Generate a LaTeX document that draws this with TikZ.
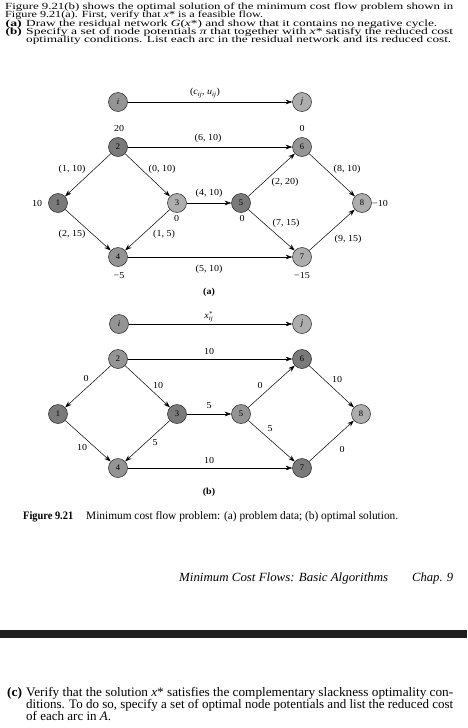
\documentclass[tikz,border=0pt]{standalone}
\usepackage{fontspec}
\setmainfont{Liberation Serif}
\usetikzlibrary{arrows.meta}
\newcommand\fitl[3]{\resizebox{#1}{#2\height}{#3}}
\newcommand\topf{\fontsize{12.2}{14}\selectfont}
\newcommand\capf{\fontsize{11.4}{13}\selectfont}
\newcommand\hdf{\fontsize{12.5}{14}\selectfont}
\newcommand\cf{\fontsize{13}{15}\selectfont}
\begin{document}
\begin{tikzpicture}[x=1pt,y=-1pt,
  vtx/.style={circle,draw=black!85,line width=0.5pt,minimum size=19pt,inner sep=0pt,font=\fontsize{8.5}{9}\selectfont},
  dk/.style={vtx,fill=black!52},
  md/.style={vtx,fill=black!42},
  lt/.style={vtx,fill=black!32},
  arc/.style={-{Stealth[length=6.5pt,width=4.6pt]},line width=0.5pt},
  lab/.style={inner sep=0pt,font=\fontsize{10}{12}\selectfont,yscale=0.92},
  txt/.style={anchor=base west,inner sep=0pt}]
\useasboundingbox (0,0) rectangle (467,728);
\fill[white] (0,0) rectangle (467,728);

% ---------- top text ----------
\node[txt] (t1) at (5,9.8) {\fitl{448pt}{0.77}{\topf Figure 9.21(b) shows the optimal solution of the minimum cost flow problem shown in}};
\node[txt] (t2) at (5,18) {\fitl{258pt}{0.77}{\topf Figure 9.21(a). First, verify that \textit{x}* is a feasible flow.}};
\node[txt] (t3a) at (5.5,26.2) {\fitl{16pt}{0.77}{\topf\bfseries (a)}};
\node[txt] (t3) at (26,26.2) {\fitl{411pt}{0.77}{\topf Draw the residual network \textit{G}(\textit{x}*) and show that it contains no negative cycle.}};
\node[txt] (t4a) at (5.5,34.4) {\fitl{16pt}{0.77}{\topf\bfseries (b)}};
\node[txt] (t4) at (26,34.4) {\fitl{427pt}{0.77}{\topf Specify a set of node potentials \textit{π} that together with \textit{x}* satisfy the reduced cost}};
\node[txt] (t5) at (26,42.8) {\fitl{425pt}{0.77}{\topf optimality conditions. List each arc in the residual network and its reduced cost.}};

% ---------- figure (a) ----------
\node[md] (ai) at (118,102) {\textit{i}};
\node[lt] (aj) at (302,102) {\textit{j}};
\node[dk] (a2) at (118,147) {2};
\node[md] (a6) at (302,147) {6};
\node[dk] (a1) at (58,203) {1};
\node[lt] (a3) at (177,203) {3};
\node[dk] (a5) at (241,203) {5};
\node[lt] (a8) at (362,203) {8};
\node[md] (a4) at (118,257) {4};
\node[lt] (a7) at (302,257) {7};

\draw[arc] (ai) -- (aj);
\draw[arc] (a2) -- (a6);
\draw[arc] (a2) -- (a1);
\draw[arc] (a2) -- (a3);
\draw[arc] (a1) -- (a4);
\draw[arc] (a3) -- (a4);
\draw[arc] (a3) -- (a5);
\draw[arc] (a5) -- (a6);
\draw[arc] (a5) -- (a7);
\draw[arc] (a4) -- (a7);
\draw[arc] (a6) -- (a8);
\draw[arc] (a7) -- (a8);

\node[lab] (lcu) at (205,93) {(\textit{c}\textsubscript{\textit{ij}}, \textit{u}\textsubscript{\textit{ij}})};
\node[lab] (b2) at (119,128) {20};
\node[lab] (b6) at (302,128) {0};
\node[lab] (l26) at (208,138) {(6, 10)};
\node[lab] (l21) at (72,169) {(1, 10)};
\node[lab] (l23) at (162,169) {(0, 10)};
\node[lab] (l56) at (285,182) {(2, 20)};
\node[lab] (l68) at (347,169) {(8, 10)};
\node[lab] (b1) at (37,203) {10};
\node[lab] (l35) at (209,193.5) {(4, 10)};
\node[lab] (b3) at (176.5,218) {0};
\node[lab] (b5) at (242,218) {0};
\node[lab] (b8) at (380,203) {−10};
\node[lab] (l14) at (72,234) {(2, 15)};
\node[lab] (l34) at (164,234) {(1, 5)};
\node[lab] (l57) at (286,223) {(7, 15)};
\node[lab] (l78) at (348,239) {(9, 15)};
\node[lab] (l47) at (209,269) {(5, 10)};
\node[lab] (b4) at (119,276) {−5};
\node[lab] (b7) at (302,276) {−15};
\node[lab] (capa) at (209,292) {\bfseries (a)};

% ---------- figure (b) ----------
\node[md] (bi) at (119,324) {\textit{i}};
\node[lt] (bj) at (302,324) {\textit{j}};
\node[md] (c2) at (118,359) {2};
\node[dk] (c6) at (302,359) {6};
\node[dk] (c1) at (58,414) {1};
\node[dk] (c3) at (177,414) {3};
\node[md] (c5) at (241,414) {5};
\node[lt] (c8) at (361,414) {8};
\node[md] (c4) at (118,468) {4};
\node[dk] (c7) at (302,468) {7};

\draw[arc] (bi) -- (bj);
\draw[arc] (c2) -- (c6);
\draw[arc] (c2) -- (c1);
\draw[arc] (c2) -- (c3);
\draw[arc] (c1) -- (c4);
\draw[arc] (c3) -- (c4);
\draw[arc] (c3) -- (c5);
\draw[arc] (c5) -- (c6);
\draw[arc] (c5) -- (c7);
\draw[arc] (c4) -- (c7);
\draw[arc] (c6) -- (c8);
\draw[arc] (c7) -- (c8);

\node[lab] (lx) at (209,317) {\textit{x}$^{*}_{\mathit{ij}}$};
\node[lab] (m26) at (209,351) {10};
\node[lab] (m21) at (86,378) {0};
\node[lab] (m23) at (158,385) {10};
\node[lab] (m56) at (260,385) {0};
\node[lab] (m68) at (337,379) {10};
\node[lab] (m35) at (209,406) {5};
\node[lab] (m14) at (82,447) {10};
\node[lab] (m34) at (155,443) {5};
\node[lab] (m57) at (270,429) {5};
\node[lab] (m78) at (342,449) {0};
\node[lab] (m47) at (209,460) {10};
\node[lab] (capb) at (209,492) {\bfseries (b)};

% ---------- caption & header ----------
\node[txt] (cap1) at (23,519.3) {\fitl{50pt}{1}{\capf\bfseries Figure 9.21}};
\node[txt] (cap2) at (86,519.3) {\fitl{312pt}{1}{\capf Minimum cost flow problem: (a) problem data; (b) optimal solution.}};
\node[txt] (hd1) at (179,581) {\fitl{209pt}{1}{\hdf\itshape Minimum Cost Flows: Basic Algorithms}};
\node[txt] (hd2) at (412,581) {\fitl{41pt}{1}{\hdf\itshape Chap. 9}};

\fill[black!88] (0,630) rectangle (467,637.7);

% ---------- part (c) ----------
\node[txt] (c0) at (7,696) {\fitl{15pt}{1}{\cf\bfseries (c)}};
\node[txt] (cl1) at (26,696) {\fitl{427pt}{1}{\cf Verify that the solution \textit{x}* satisfies the complementary slackness optimality con-}};
\node[txt] (cl2) at (26,708) {\fitl{427pt}{1}{\cf ditions. To do so, specify a set of optimal node potentials and list the reduced cost}};
\node[txt] (cl3) at (26,720) {\fitl{85pt}{1}{\cf of each arc in \textit{A}.}};
\end{tikzpicture}
\end{document}
